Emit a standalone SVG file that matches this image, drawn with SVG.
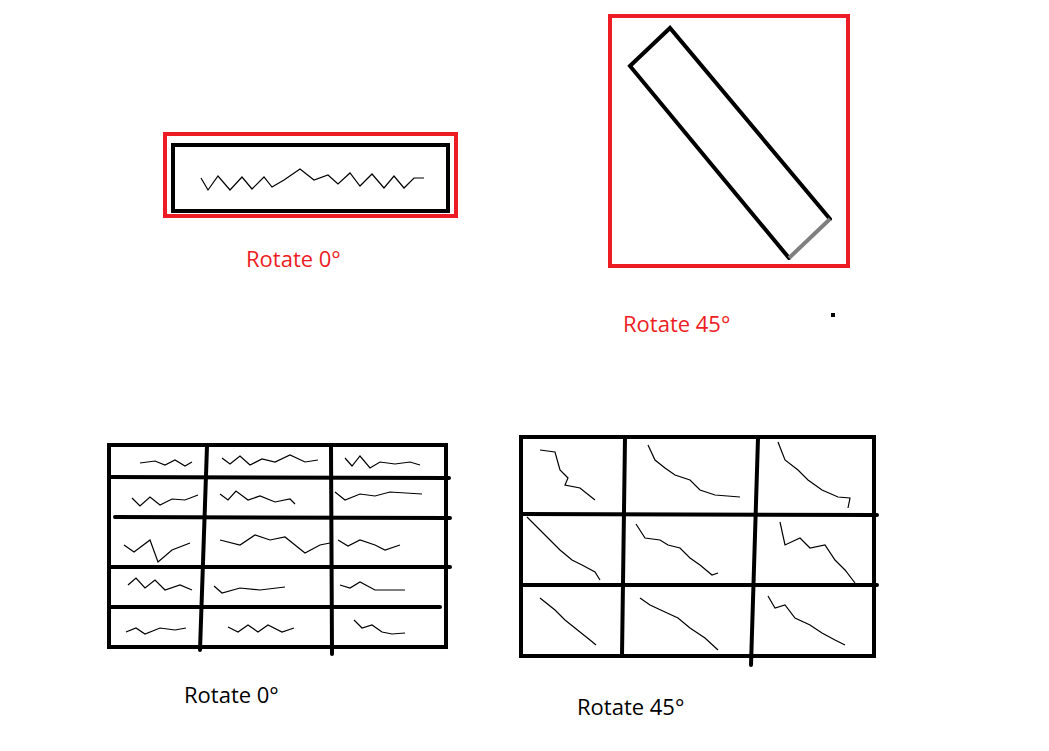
<svg xmlns="http://www.w3.org/2000/svg" width="1049" height="751" viewBox="0 0 1049 751">
<style>
.red{fill:none;stroke:#ed1c24;stroke-width:4}
.blk{fill:none;stroke:#000;stroke-width:4;stroke-linecap:round}
.sq{fill:none;stroke:#000;stroke-width:1.2}
.lr{font-family:"Open Sans","Liberation Sans",sans-serif;font-size:22px;fill:#ed1c24}
.lb{font-family:"Open Sans","Liberation Sans",sans-serif;font-size:22px;fill:#000}
</style>
<rect width="1049" height="751" fill="#fff"/>
<g id="top-left">
<rect class="red" x="165" y="134" width="291" height="82"/>
<rect class="blk" x="173" y="145" width="275" height="66"/>
<polyline class="sq" points="201,178 208,190 218,176 230,190 242,177 252,189 264,177 272,187 284,180 300,169 314,180 328,175 338,184 350,173 360,186 372,174 384,188 394,176 404,188 414,178 424,178"/>
<text class="lr" x="246" y="267">Rotate 0°</text>
</g>
<g id="top-right">
<rect class="red" x="610" y="16" width="238" height="250"/>
<polyline class="blk" points="789,258 630,66 670,28 830,219"/>
<line x1="789" y1="258" x2="830" y2="219" stroke="#7f7f7f" stroke-width="4"/>
<text class="lr" x="623" y="332">Rotate 45°</text>
<rect x="831" y="313" width="4" height="4" fill="#000"/>
</g>
<g id="bottom-left">
<rect class="blk" x="109" y="445" width="337" height="202"/>
<line class="blk" x1="109" y1="477" x2="449" y2="478"/>
<line class="blk" x1="115" y1="517" x2="450" y2="518"/>
<line class="blk" x1="109" y1="567" x2="450" y2="567"/>
<line class="blk" x1="109" y1="607" x2="440" y2="607"/>
<line class="blk" x1="207" y1="446" x2="200" y2="650"/>
<line class="blk" x1="331" y1="446" x2="332" y2="654"/>
<polyline class="sq" points="140,463 155,461 165,465 175,460 185,466 192,462"/>
<polyline class="sq" points="222,458 230,464 240,456 250,465 262,459 275,462 290,455 305,462 318,460"/>
<polyline class="sq" points="345,458 352,466 360,456 370,468 380,462 395,464 410,462 420,465"/>
<polyline class="sq" points="132,498 140,506 150,497 160,505 172,499 185,500 198,495"/>
<polyline class="sq" points="220,494 228,500 236,491 248,500 260,496 275,502 290,499 295,504"/>
<polyline class="sq" points="335,492 345,500 360,494 375,496 390,492 422,494"/>
<polyline class="sq" points="124,545 134,552 150,540 158,562 172,550 190,543"/>
<polyline class="sq" points="220,540 240,545 255,535 270,540 285,537 295,545 305,553 320,545 330,543"/>
<polyline class="sq" points="338,540 348,546 360,540 375,545 385,550 400,545"/>
<polyline class="sq" points="128,585 136,578 145,588 155,580 165,590 180,585 192,590"/>
<polyline class="sq" points="214,586 222,593 240,588 260,590 285,587"/>
<polyline class="sq" points="340,585 350,588 360,582 375,590 405,590"/>
<polyline class="sq" points="126,632 136,628 145,634 160,628 175,630 186,628"/>
<polyline class="sq" points="228,627 238,632 248,625 258,632 268,625 282,632 294,628"/>
<polyline class="sq" points="354,620 362,628 372,625 382,632 392,634 405,633"/>
<text class="lb" x="184" y="703">Rotate 0°</text>
</g>
<g id="bottom-right">
<rect class="blk" x="521" y="437" width="353" height="219"/>
<line class="blk" x1="523" y1="514" x2="877" y2="515"/>
<line class="blk" x1="523" y1="585" x2="877" y2="585"/>
<line class="blk" x1="625" y1="438" x2="622" y2="656"/>
<line class="blk" x1="758" y1="438" x2="751" y2="665"/>
<polyline class="sq" points="540,450 555,452 560,470 568,478 565,485 580,488 595,500"/>
<polyline class="sq" points="648,445 655,460 665,468 675,475 690,480 700,490 715,495 740,497"/>
<polyline class="sq" points="778,442 785,460 798,470 808,480 822,490 838,497 850,498 848,508"/>
<polyline class="sq" points="527,517 540,530 550,540 560,550 572,560 582,565 595,572 600,580"/>
<polyline class="sq" points="636,524 645,538 660,540 668,545 680,548 690,558 700,565 712,575 718,573"/>
<polyline class="sq" points="780,522 785,545 800,538 810,548 825,545 835,560 845,570 855,583"/>
<polyline class="sq" points="540,598 555,610 565,620 575,628 590,640 596,645"/>
<polyline class="sq" points="640,598 650,605 665,612 678,618 690,628 705,638 718,650"/>
<polyline class="sq" points="768,596 775,608 785,605 795,618 810,625 822,633 835,640 845,645"/>
<text class="lb" x="577" y="715">Rotate 45°</text>
</g>
<g id="connectors"/>
</svg>
